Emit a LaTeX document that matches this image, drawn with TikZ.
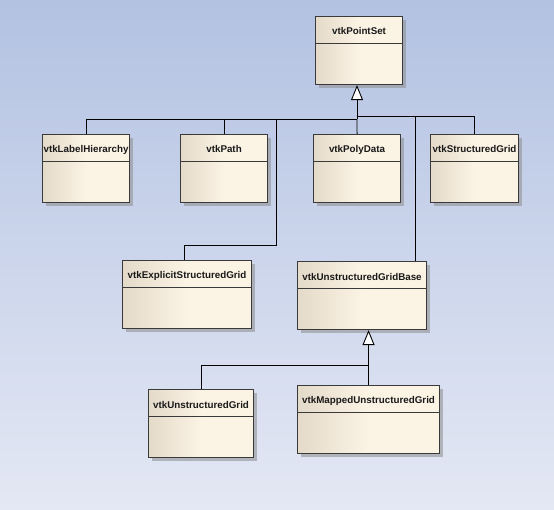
\documentclass[tikz,border=0pt]{standalone}
\usepackage{fontspec}
\setmainfont{Liberation Sans}
\usetikzlibrary{arrows.meta,shadows,calc}
\definecolor{bgtop}{HTML}{B3C2E2}
\definecolor{bgbot}{HTML}{E4E8F4}
\definecolor{boxl}{HTML}{E4DACA}
\definecolor{boxr}{HTML}{FBF3E4}
\definecolor{edge}{HTML}{3A3A3A}
\tikzset{
  cls/.style={rectangle, draw=edge, line width=1.1pt, anchor=north west,
    left color=boxl, right color=boxr, middle color=boxr,
    minimum height=68pt, inner sep=0pt,
    drop shadow={shadow xshift=3pt, shadow yshift=-3pt, fill=black!45, opacity=0.55}},
  clsname/.style={font=\fontsize{9.8}{11}\selectfont\bfseries, text=black!90, inner sep=0pt},
  divider/.style={draw=edge, line width=1.1pt},
  conn/.style={draw=black, line width=0.9pt},
  gen/.style={conn, -{Triangle[fill=white, length=15pt, width=12pt, line width=0.9pt]}},
}
\newcommand{\clsbox}[6]{%
  \node[cls, minimum width=#4] (#1) at (#2,#3) {};
  \node[clsname] (#1-name) at ([yshift=-15.5pt]#1.north) {#5};
  \draw[divider] ([yshift=-27.5pt]#1.north west) -- ([yshift=-27.5pt]#1.north east);
}
\begin{document}
\begin{tikzpicture}[x=1pt,y=-1pt]
\useasboundingbox (0,0) rectangle (554,510);
\shade[top color=bgtop, bottom color=bgbot] (0,0) rectangle (554,510);

\clsbox{ps}{315}{16}{87pt}{vtkPointSet}{}
\clsbox{lh}{42}{134}{87pt}{vtkLabelHierarchy}{}
\clsbox{path}{180}{134}{87pt}{vtkPath}{}
\clsbox{pd}{313}{134}{87pt}{vtkPolyData}{}
\clsbox{sg}{430}{134}{88pt}{vtkStructuredGrid}{}
\clsbox{esg}{122}{260}{129pt}{vtkExplicitStructuredGrid}{}
\clsbox{ugb}{297}{261}{129pt}{vtkUnstructuredGridBase}{}
\clsbox{ug}{148}{389}{105pt}{vtkUnstructuredGrid}{}
\clsbox{mug}{297}{385}{142pt}{vtkMappedUnstructuredGrid}{}

% top generalization tree
\coordinate (bus1) at (357,119.5);
\coordinate (bus2) at (357,116.5);
\coordinate (esgbend) at (276.5,245);
\coordinate (ugbtop) at (415,261);
\draw[conn] (lh.north) |- (bus1);
\draw[conn] (path.north) |- (bus1);
\draw[conn] (pd.north) -- (bus1);
\draw[conn] ([xshift=-2.5pt]esg.north) |- (esgbend) |- (bus1);
\draw[conn] (sg.north) |- (bus2);
\draw[conn] (ugbtop) |- (bus2);
\draw[gen] (bus1) -- (bus1 |- ps.south);

% lower generalization tree
\coordinate (bus3) at (368,365);
\draw[conn] (ug.north) |- (bus3);
\draw[gen] (mug.north) -- (mug.north |- ugb.south);
\end{tikzpicture}
\end{document}
